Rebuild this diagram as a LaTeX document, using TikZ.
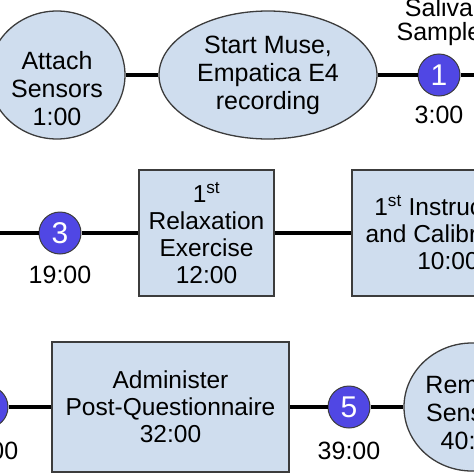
\documentclass[tikz,border=0pt]{standalone}
\usepackage{fontspec}
\setmainfont{Liberation Sans}
\usetikzlibrary{positioning,shapes.geometric}
\definecolor{Pale}{HTML}{CFDDEE}
\definecolor{Edge}{HTML}{3C3C3C}
\definecolor{Dot}{HTML}{5047E4}

\begin{document}
\begin{tikzpicture}[x=1pt,y=-1pt,
    oval/.style={ellipse,draw=Edge,fill=Pale,line width=1.3pt,inner sep=0pt,align=center,font=\fontsize{25}{28}\selectfont},
    task/.style={rectangle,draw=Edge,fill=Pale,line width=1.6pt,inner sep=0pt,align=center,font=\fontsize{24.5}{27}\selectfont},
    sample/.style={circle,draw=Edge,fill=Dot,line width=1pt,minimum size=42pt,inner sep=0pt,text=white,font=\fontsize{30}{30}\selectfont},
    tag/.style={inner sep=0pt,align=center,font=\fontsize{25}{24}\selectfont},
    link/.style={line width=3.2pt}]
  \useasboundingbox (0,0) rectangle (474,474);
  \clip (0,0) rectangle (474,474);
  % row 1
  \node[oval,minimum width=136pt,minimum height=128pt,text height=102pt,inner sep=-20pt] (attach) at (57,75) {Attach\\Sensors\\1:00};
  \node[oval,minimum width=218pt,minimum height=128pt] (muse) at (268,75) {Start Muse,\\Empatica E4\\recording};
  \node[sample] (s1) at (439,75) {1};
  \node[tag,above=8pt of s1] (s1name) {Saliva\\Sample};
  \node[tag,below=9pt of s1] (s1time) {3:00};
  \coordinate (r1end) at (500,75);
  % row 2
  \coordinate (r2end) at (-30,233);
  \node[sample] (s3) at (60,233) {3};
  \node[tag,below=11pt of s3] (s3time) {19:00};
  \node[task,minimum width=135pt,minimum height=126pt] (relax) at (206.5,233) {1\textsuperscript{st}\\Relaxation\\Exercise\\12:00};
  \node[task,minimum width=192pt,minimum height=126pt] (instr) at (448,233) {1\textsuperscript{st} Instruction\\and Calibration\\10:00};
  % row 3
  \node[sample] (s4) at (-13,407) {4};
  \node[tag,below=13pt of s4] (s4time) {31:00};
  \node[task,minimum width=237pt,minimum height=130pt] (post) at (170.5,407) {Administer\\Post-Questionnaire\\32:00};
  \node[sample] (s5) at (349,407) {5};
  \node[tag,below=13pt of s5] (s5time) {39:00};
  \node[oval,minimum width=136pt,minimum height=128pt,text height=86pt,inner sep=-6pt] (remove) at (472,407) {Remove\\Sensors\\40:00};
  % connectors
  \draw[link] (attach) -- (muse);
  \draw[link] (muse) -- (s1);
  \draw[link] (s1) -- (r1end);
  \draw[link] (r2end) -- (s3);
  \draw[link] (s3) -- (relax);
  \draw[link] (relax) -- (instr);
  \draw[link] (s4) -- (post);
  \draw[link] (post) -- (s5);
  \draw[link] (s5) -- (remove);
\end{tikzpicture}
\end{document}
